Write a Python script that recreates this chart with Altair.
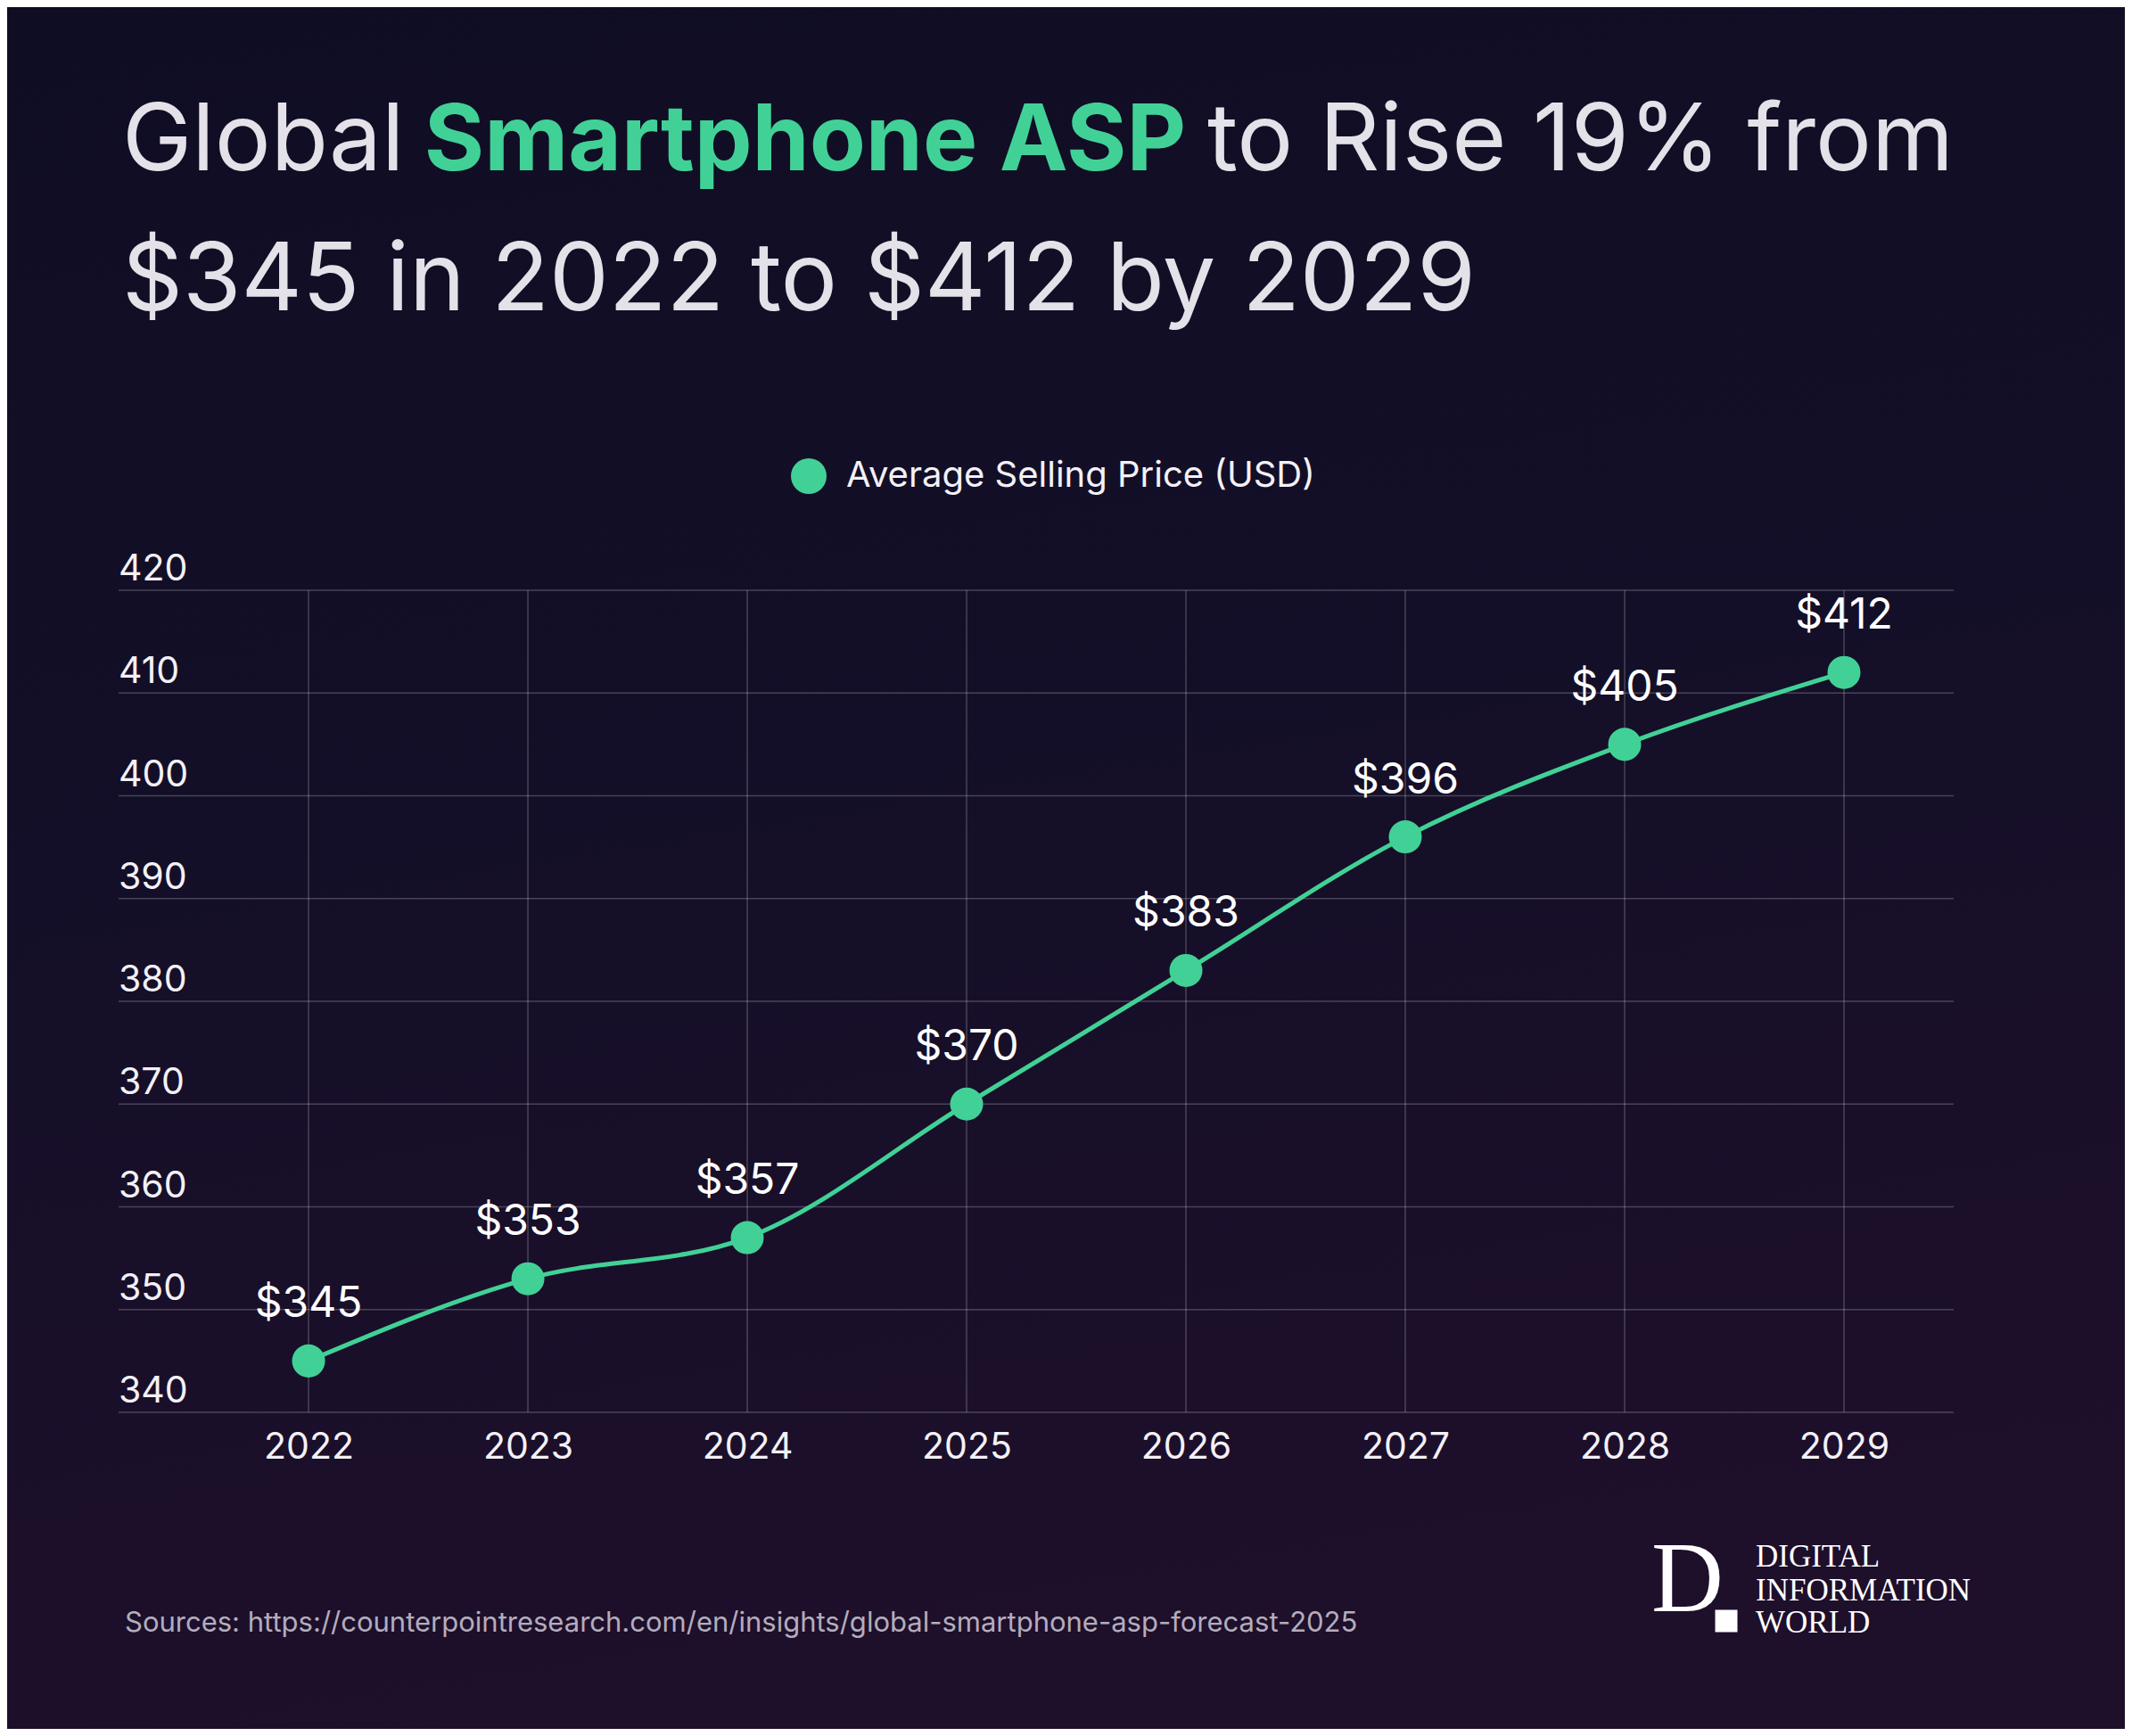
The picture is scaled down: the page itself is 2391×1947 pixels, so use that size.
import altair as alt
import pandas as pd

# ---------------- data ----------------
years = [2022, 2023, 2024, 2025, 2026, 2027, 2028, 2029]
asp = [345, 353, 357, 370, 383, 396, 405, 412]
y_ticks = [340, 350, 360, 370, 380, 390, 400, 410, 420]
series_name = "Average Selling Price (USD)"

title_a = "Global"
title_b = "Smartphone ASP"
title_c = "to Rise 19% from"
title_line2 = "$345 in 2022 to $412 by 2029"
source_text = "Sources: https://counterpointresearch.com/en/insights/global-smartphone-asp-forecast-2025"
logo_letter = "D"
logo_lines = ["DIGITAL", "INFORMATION", "WORLD"]

# ---------------- style ----------------
GREEN = "#41d196"
WHITE = "#f3f1f6"
TITLE_COL = "#e4e2e8"
FONT = "Inter"
SERIF = "Liberation Serif"
W, H = 2058, 922
PAD = {"left": 125, "top": 654, "right": 192, "bottom": 355}

data = pd.DataFrame({"year": years, "asp": asp, "series": series_name})
ticks_df = pd.DataFrame({"v": y_ticks})
one = pd.DataFrame({"k": [0]})

xs = alt.Scale(domain=[2021.134, 2029.5], nice=False, zero=False)
ys = alt.Scale(domain=[340, 420], nice=False, zero=False)
xaxis = alt.Axis(values=years, format="d", labelFontSize=41, labelFont=FONT,
                 labelColor=WHITE, ticks=False, domain=False, grid=False,
                 labelPadding=19, labelFlush=False, title=None, zindex=2)
X = alt.X("year:Q", scale=xs, axis=xaxis)
Y = alt.Y("asp:Q", scale=ys, axis=None)

# background gradient
bg = alt.Chart(one).mark_rect(
    color=alt.Gradient(
        gradient="linear",
        stops=[alt.GradientStop(color="#0f0d24", offset=0),
               alt.GradientStop(color="#140f28", offset=0.5),
               alt.GradientStop(color="#1e0f2b", offset=1)],
        x1=0, x2=0.2, y1=0, y2=1)
).encode(x=alt.value(-PAD["left"]), x2=alt.value(W + PAD["right"]),
         y=alt.value(-PAD["top"]), y2=alt.value(H + PAD["bottom"]))

ygrid = alt.Chart(ticks_df).mark_rule(color="#ffffff", opacity=0.22, strokeWidth=1.5).encode(
    y=alt.Y("v:Q", scale=ys, axis=None))
xgrid = alt.Chart(data).mark_rule(color="#ffffff", opacity=0.22, strokeWidth=1.5).encode(x=X)

ylabels = alt.Chart(ticks_df).mark_text(
    align="left", baseline="alphabetic", dy=-11, fontSize=41, font=FONT, color=WHITE
).encode(x=alt.value(0), y=alt.Y("v:Q", scale=ys, axis=None), text=alt.Text("v:Q", format="d"))

line = alt.Chart(data).mark_line(interpolate="monotone", color=GREEN, strokeWidth=5).encode(x=X, y=Y)

points = alt.Chart(data).mark_circle(size=1370, opacity=1).encode(
    x=X, y=Y,
    color=alt.Color("series:N",
                    scale=alt.Scale(domain=[series_name], range=[GREEN]),
                    legend=alt.Legend(orient="none", legendX=754, legendY=-148, title=None,
                                      symbolType="circle", symbolSize=1600, symbolStrokeWidth=0,
                                      symbolOpacity=1, labelFontSize=40, labelColor=WHITE,
                                      labelFont=FONT, labelOffset=22, padding=0,
                                      labelLimit=1000, zindex=2)))

vlabels = alt.Chart(data).transform_calculate(label='"$" + datum.asp').mark_text(
    dy=-63, fontSize=48, font=FONT, color="#ffffff", baseline="middle", align="center"
).encode(x=X, y=Y, text="label:N")

def txt(s, x, y, size, color, align="left", weight="normal", font=FONT):
    return alt.Chart(one).mark_text(
        text=s, align=align, baseline="alphabetic", fontSize=size, font=font,
        color=color, fontWeight=weight
    ).encode(x=alt.value(x), y=alt.value(y))

t1 = txt(title_a, 4, -471, 105, TITLE_COL)
t2 = txt(title_b, 770, -471, 103, GREEN, align="center", weight="bold")
t3 = txt(title_c, 2058, -471, 105, TITLE_COL, align="right")
t4 = txt(title_line2, 4, -314, 106, TITLE_COL)
src = txt(source_text, 7, 1168, 31, "#b3adbd")

logo_d = txt(logo_letter, 1719, 1145, 112, "#ffffff", font=SERIF)
logo_sq = alt.Chart(one).mark_square(size=625, color="#ffffff", opacity=1).encode(
    x=alt.value(1803), y=alt.value(1156))
logo_t = [txt(s, 1836, yy, 35, "#ffffff", font=SERIF)
          for s, yy in zip(logo_lines, [1095, 1133, 1169])]

chart = alt.layer(
    bg, ygrid, xgrid, ylabels, line, points, vlabels,
    t1, t2, t3, t4, src, logo_d, logo_sq, *logo_t
).properties(
    width=W, height=H, padding=PAD,
    autosize=alt.AutoSizeParams(type="none"),
    background="#140f27",
).configure_view(strokeOpacity=0)

chart.save("out.html", embed_options={"renderer": "svg", "actions": False})
